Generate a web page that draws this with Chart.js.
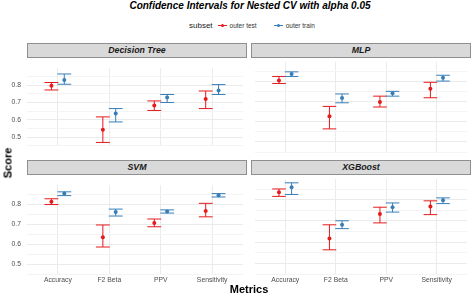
<!DOCTYPE html>
<html>
<head>
<meta charset="utf-8">
<script src="https://cdn.jsdelivr.net/npm/chart.js@4"></script>
<style>
  html, body { margin: 0; padding: 0; background: #fff; }
  #page { position: relative; width: 474px; height: 293px; overflow: hidden; font-family: "Liberation Sans", Arial, sans-serif; }
  .abs { position: absolute; }
  .title { left: 0; width: 500px; top: 0; text-align: center; font-size: 10px; font-weight: bold; font-style: italic; color: #000; }
  .legend { left: 189px; top: 19px; height: 12px; display: flex; align-items: center; font-size: 8px; color: #1a1a1a; }
  .legend .lab { font-size: 6.5px; margin-left: 3px; margin-right: 12px; color: #333; }
  .key { position: relative; width: 9px; height: 12px; margin-left: 5px; }
  .key i { position: absolute; left: 0; top: 5.5px; width: 9px; height: 1px; }
  .key b { position: absolute; left: 3px; top: 4.5px; width: 3px; height: 3px; border-radius: 50%; }
  .strip { background: #d9d9d9; border: 1px solid #8f8f8f; box-sizing: border-box; text-align: center; font-size: 8.8px; font-weight: bold; font-style: italic; color: #1a1a1a; line-height: 13px; }
  .ytitle { left: 8px; top: 163px; line-height: 1; transform: translate(-50%, -50%) rotate(-90deg); font-size: 11px; font-weight: bold; white-space: nowrap; }
  .xtitle { left: 249px; top: 283px; transform: translateX(-50%); font-size: 11px; font-weight: bold; white-space: nowrap; }
  canvas { display: block; }
</style>
</head>
<body>
<div id="page">
  <div class="abs title">Confidence Intervals for Nested CV with alpha 0.05</div>
  <div class="abs legend">
    <span>subset</span>
    <span class="key"><i style="background:#E41A1C"></i><b style="background:#E41A1C"></b></span>
    <span class="lab">outer test</span>
    <span class="key"><i style="background:#377EB8"></i><b style="background:#377EB8"></b></span>
    <span class="lab">outer train</span>
  </div>
  <div class="abs strip" id="strip0" style="left:27px;top:43px;width:220px;height:15px;"></div>
  <div class="abs strip" id="strip1" style="left:251px;top:43px;width:220px;height:15px;"></div>
  <div class="abs strip" id="strip2" style="left:27px;top:160px;width:220px;height:15px;"></div>
  <div class="abs strip" id="strip3" style="left:251px;top:160px;width:220px;height:15px;"></div>
  <div class="abs" style="left:0;top:58px;width:247px;height:98px;"><canvas id="c0"></canvas></div>
  <div class="abs" style="left:251px;top:58px;width:220px;height:98px;"><canvas id="c1"></canvas></div>
  <div class="abs" style="left:0;top:175px;width:247px;height:118px;"><canvas id="c2"></canvas></div>
  <div class="abs" style="left:251px;top:175px;width:220px;height:118px;"><canvas id="c3"></canvas></div>
  <div class="abs ytitle">Score</div>
  <div class="abs xtitle">Metrics</div>
</div>
<script>
// Data
const metrics = ["Accuracy", "F2 Beta", "PPV", "Sensitivity"];
const models = ["Decision Tree", "MLP", "SVM", "XGBoost"];
const subsets = ["outer test", "outer train"];
const yTicks = [0.5, 0.6, 0.7, 0.8];

// one row per model, one value per metric
const testMean = [
  [0.797, 0.543, 0.683, 0.720],
  [0.806, 0.628, 0.699, 0.765],
  [0.814, 0.635, 0.707, 0.768],
  [0.836, 0.618, 0.733, 0.768]
];
const testLow = [
  [0.772, 0.470, 0.654, 0.665],
  [0.791, 0.565, 0.674, 0.720],
  [0.800, 0.586, 0.688, 0.738],
  [0.816, 0.564, 0.691, 0.730]
];
const testHigh = [
  [0.815, 0.617, 0.709, 0.766],
  [0.826, 0.677, 0.728, 0.797],
  [0.829, 0.697, 0.727, 0.806],
  [0.851, 0.682, 0.765, 0.795]
];
const trainMean = [
  [0.829, 0.637, 0.729, 0.769],
  [0.838, 0.719, 0.742, 0.820],
  [0.856, 0.762, 0.765, 0.847],
  [0.859, 0.682, 0.765, 0.798]
];
const trainLow = [
  [0.805, 0.588, 0.700, 0.746],
  [0.826, 0.695, 0.728, 0.803],
  [0.845, 0.742, 0.757, 0.838],
  [0.825, 0.664, 0.742, 0.782]
];
const trainHigh = [
  [0.864, 0.665, 0.746, 0.803],
  [0.849, 0.739, 0.752, 0.832],
  [0.864, 0.777, 0.773, 0.855],
  [0.880, 0.701, 0.785, 0.809]
];

const colors = ["#E41A1C", "#377EB8"];
const dodge = 0.125;
const capHalf = 0.135;

// error bars drawn under the points, through the chart scales
const errorBars = {
  id: "errorBars",
  beforeDatasetsDraw(chart) {
    const { ctx, scales: { x, y } } = chart;
    ctx.save();
    chart.data.datasets.forEach(ds => {
      ctx.strokeStyle = ds.borderColor;
      ctx.lineWidth = 1;
      ds.data.forEach(p => {
        const px = x.getPixelForValue(p.x);
        const x0 = x.getPixelForValue(p.x - capHalf);
        const x1 = x.getPixelForValue(p.x + capHalf);
        const yl = y.getPixelForValue(p.lo);
        const yh = y.getPixelForValue(p.hi);
        ctx.beginPath();
        ctx.moveTo(px, yl); ctx.lineTo(px, yh);
        ctx.moveTo(x0, yl); ctx.lineTo(x1, yl);
        ctx.moveTo(x0, yh); ctx.lineTo(x1, yh);
        ctx.stroke();
      });
    });
    ctx.restore();
  }
};

function points(mean, low, high, m, off) {
  return metrics.map((_, i) => ({ x: i + 1 + off, y: mean[m][i], lo: low[m][i], hi: high[m][i] }));
}

function makePanel(m) {
  const showY = m % 2 === 0;
  const showX = m >= 2;
  document.getElementById("strip" + m).textContent = models[m];
  new Chart(document.getElementById("c" + m), {
    type: "scatter",
    data: {
      datasets: [
        { label: subsets[0], data: points(testMean, testLow, testHigh, m, -dodge),
          borderColor: colors[0], backgroundColor: colors[0], pointRadius: 2, pointBorderWidth: 0 },
        { label: subsets[1], data: points(trainMean, trainLow, trainHigh, m, dodge),
          borderColor: colors[1], backgroundColor: colors[1], pointRadius: 2, pointBorderWidth: 0 }
      ]
    },
    options: {
      responsive: true,
      maintainAspectRatio: false,
      animation: false,
      layout: { padding: 0 },
      plugins: { legend: { display: false }, tooltip: { enabled: false } },
      scales: {
        x: {
          type: "linear", min: 0.4, max: 4.6,
          afterBuildTicks: s => { s.ticks = metrics.map((_, i) => ({ value: i + 1 })); },
          afterFit: s => { s.height = showX ? 19 : 0; },
          ticks: { display: showX, padding: 2, color: "#4d4d4d", font: { size: 6.8, family: "Liberation Sans" },
                   maxRotation: 0, autoSkip: false, callback: v => metrics[v - 1] },
          grid: { color: "#ebebeb", lineWidth: 1, drawTicks: false },
          border: { display: false }
        },
        y: {
          min: 0.45, max: 0.898,
          afterBuildTicks: s => { s.ticks = [0.45, 0.5, 0.55, 0.6, 0.65, 0.7, 0.75, 0.8, 0.85].map(v => ({ value: v })); },
          afterFit: s => { s.width = showY ? 27 : 0; },
          ticks: { display: showY, autoSkip: false, padding: 6, color: "#4d4d4d", font: { size: 6.8, family: "Liberation Sans" },
                   callback: v => yTicks.some(t => Math.abs(t - v) < 1e-6) ? v.toFixed(1) : "" },
          grid: {
            drawTicks: false,
            color: c => yTicks.some(t => Math.abs(t - c.tick.value) < 1e-6) ? "#ebebeb" : "#f4f4f4",
            lineWidth: 1
          },
          border: { display: false }
        }
      }
    },
    plugins: [errorBars]
  });
}

models.forEach((_, m) => makePanel(m));
</script>
</body>
</html>
